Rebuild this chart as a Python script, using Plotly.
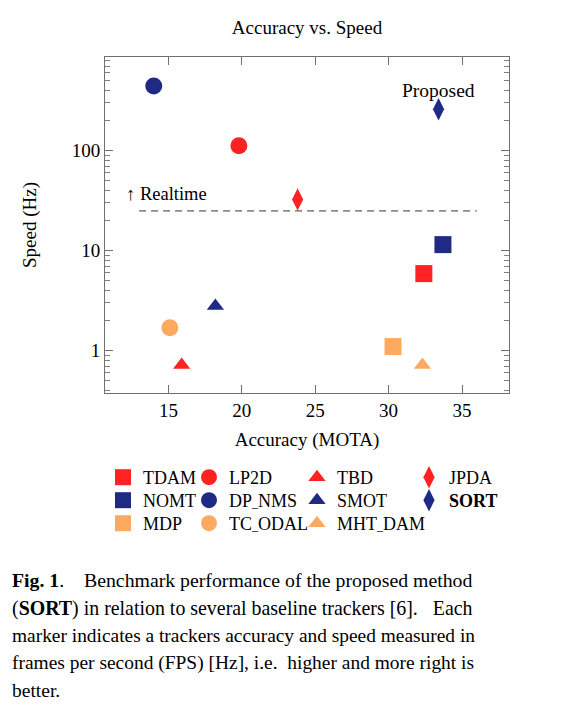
import math
import plotly.graph_objects as go

# Tracker benchmark: accuracy (MOTA) vs speed (Hz)
US = "<span style='font-size:12px'>_</span>"  # narrow underscore like LaTeX \_
trackers = ["TDAM", "LP2D", "TBD", "JPDA",
            "NOMT", "DP" + US + "NMS", "SMOT", "<b>SORT</b>",
            "MDP", "TC" + US + "ODAL", "MHT" + US + "DAM"]
mota = [32.4, 19.8, 15.9, 23.8,
        33.7, 14.0, 18.2, 33.4,
        30.3, 15.1, 32.3]
speed_hz = [5.9, 112, 0.72, 32.6,
            11.5, 444, 2.8, 260,
            1.1, 1.7, 0.72]
symbols = ["square", "circle", "triangle-up", "diamond-tall",
           "square", "circle", "triangle-up", "diamond-tall",
           "square", "circle", "triangle-up"]
colors = ["#ff2222", "#ff2222", "#ff2222", "#ff2222",
          "#1f2a85", "#1f2a85", "#1f2a85", "#1f2a85",
          "#fdaa60", "#fdaa60", "#fdaa60"]
sizes = [17, 17, 15, 16, 17, 17, 15, 16, 17, 17, 15]

realtime_x = [13, 36]
realtime_hz = [25, 25]

caption_lines = [
    "<b>Fig. 1</b>.&nbsp;&nbsp;&nbsp; Benchmark performance of the proposed method",
    "(<b>SORT</b>) in relation to several baseline trackers [6].&nbsp;&nbsp; Each",
    "marker indicates a trackers accuracy and speed measured in",
    "frames per second (FPS) [Hz], i.e.&nbsp; higher and more right is",
    "better.",
]
caption_sizes = [19.8, 19.9, 19.4, 19.45, 19.5]  # per-line size to mimic justified text

SERIF = "Liberation Serif"
OFF = 8  # page body margin
W, H = 572 - 2 * OFF, 715 - 2 * OFF
L, R, T, B = 105, 509, 57, 393  # plot frame in reference pixels


def px_x(px):
    return (px - L) / (R - L)


def px_y(py):
    return (B - py) / (B - T)


fig = go.Figure()

fig.add_trace(go.Scatter(
    x=realtime_x, y=realtime_hz, mode="lines", xaxis="x2", yaxis="y2",
    line=dict(color="#606060", width=1.1, dash="7px,5px"),
    showlegend=False, hoverinfo="skip"))

# one legend per entry so the columns match the reference layout
legend_cols = [122, 208, 316, 428]
legend_rows = [477, 500, 523]
legend_layout = {}
for i, (name, x, y, sym, col, sz) in enumerate(zip(trackers, mota, speed_hz, symbols, colors, sizes)):
    key = "legend" if i == 0 else f"legend{i + 1}"
    fig.add_trace(go.Scatter(
        x=[x], y=[y], mode="markers", name=name, legend=key,
        marker=dict(symbol=sym, color=col, size=sz, line=dict(width=0))))
    cx = legend_cols[i % 4]
    cy = legend_rows[i // 4]
    legend_layout[key] = dict(
        x=px_x(cx - 19), y=px_y(cy - 18), xanchor="left", yanchor="top",
        itemwidth=30, bgcolor="rgba(0,0,0,0)",
        font=dict(family=SERIF, size=18, color="black"))

fig.add_annotation(x=11.95, y=math.log10(37), text="↑ Realtime", showarrow=False,
                   xanchor="left", font=dict(family=SERIF, size=18.5, color="black"))
fig.add_annotation(x=33.4, y=math.log10(400), text="Proposed", showarrow=False,
                   font=dict(family=SERIF, size=19.5, color="black"))

caption_y = [580, 608, 635, 663, 690]
for line, py, fs in zip(caption_lines, caption_y, caption_sizes):
    fig.add_annotation(xref="paper", yref="paper", x=px_x(10), y=px_y(py),
                       text=line, showarrow=False, xanchor="left", yanchor="middle",
                       font=dict(family=SERIF, size=fs, color="black"))

axis_common = dict(showline=True, linecolor="#707070", linewidth=1.1,
                   ticks="inside", ticklen=7.5, tickcolor="#707070", tickwidth=1,
                   showgrid=False, zeroline=False,
                   tickfont=dict(family=SERIF, size=19, color="black"))
x_range = [10.68, 38.2]
y_range = [-0.423, 2.937]
minor_vals = [m * 10 ** e for e in range(-1, 3) for m in range(2, 10)]
minor_y = dict(tickvals=minor_vals, ticks="inside", ticklen=5, tickcolor="#808080",
               tickwidth=1, showgrid=False)

fig.update_layout(
    xaxis=dict(range=x_range, tickvals=[15, 20, 25, 30, 35], side="bottom",
               title=dict(text="Accuracy (MOTA)", font=dict(family=SERIF, size=19), standoff=12),
               **axis_common),
    xaxis2=dict(range=x_range, tickvals=[15, 20, 25, 30, 35], side="top", overlaying="x",
                showticklabels=False, **axis_common),
    yaxis=dict(type="log", range=y_range, tickvals=[1, 10, 100], ticktext=["1", "10", "100"],
               minor=minor_y,
               title=dict(text="Speed (Hz)", font=dict(family=SERIF, size=19), standoff=30),
               **axis_common),
    yaxis2=dict(type="log", range=y_range, tickvals=[1, 10, 100], side="right", overlaying="y",
                showticklabels=False, minor=minor_y, **axis_common),
)

fig.update_layout(
    width=W, height=H,
    margin=dict(l=L - OFF, r=W - (R - OFF), t=T - OFF, b=H - (B - OFF), autoexpand=False),
    paper_bgcolor="white", plot_bgcolor="white",
    title=dict(text="Accuracy vs. Speed", x=px_x(307), xref="paper", xanchor="center",
               y=1 - (27 - OFF) / H, yanchor="middle",
               font=dict(family=SERIF, size=19, color="black")),
    font=dict(family=SERIF, color="black"),
    **legend_layout,
)

fig.write_html("out.html")
